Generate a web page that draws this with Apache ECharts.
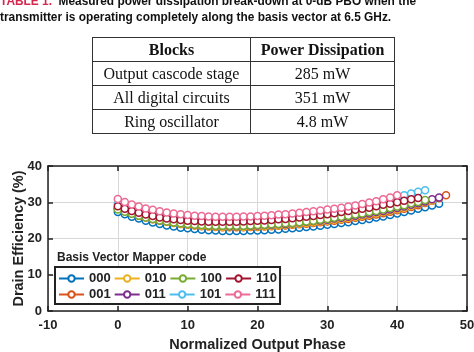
<!DOCTYPE html>
<html>
<head>
<meta charset="utf-8">
<script src="https://cdn.jsdelivr.net/npm/echarts@6/dist/echarts.min.js"></script>
<style>
  html, body { margin:0; padding:0; background:#fff; }
  #wrap { position:relative; width:474px; height:352px; overflow:hidden; background:#fff; }
  #chart { position:absolute; left:0; top:0; width:474px; height:352px; }
  .cap { position:absolute; left:0; font-family:"Liberation Sans", Arial, sans-serif; font-weight:bold; font-size:11.9px; color:#111; white-space:nowrap; line-height:14px; z-index:2; }
  .cap .tl { color:#D6284F; }
  table.pd { position:absolute; left:92px; top:37px; width:303px; border-collapse:collapse; font-family:"Liberation Serif", "Times New Roman", serif; font-size:16px; color:#111; z-index:2; }
  table.pd td, table.pd th { border:1.5px solid #333; height:23px; padding:0; text-align:center; line-height:20px; }
  table.pd th { font-weight:bold; }
</style>
</head>
<body>
<div id="wrap">
  <div id="chart"></div>
  <div class="cap" style="top:-6px;"><span class="tl">TABLE 1.</span>&nbsp; Measured power dissipation break-down at 0-dB PBO when the</div>
  <div class="cap" style="top:10px;">transmitter is operating completely along the basis vector at 6.5 GHz.</div>
  <table class="pd">
    <tr><th style="width:157px;">Blocks</th><th>Power Dissipation</th></tr>
    <tr><td>Output cascode stage</td><td>285 mW</td></tr>
    <tr><td>All digital circuits</td><td>351 mW</td></tr>
    <tr><td>Ring oscillator</td><td>4.8 mW</td></tr>
  </table>
</div>
<script>
// Normalized output phase (shared x positions)
const phase = [0,1,2,3,4,5,6,7,8,9,10,11,12,13,14,15,16,17,18,19,20,21,22,23,24,25,26,27,28,29,30,31,32,33,34,35,36,37,38,39,40,41,42,43,44,45,46,47];

// Drain efficiency (%) per basis vector mapper code
const eff000 = [27.3,26.7,26.0,25.5,24.9,24.4,24.0,23.6,23.3,23.0,22.8,22.6,22.4,22.3,22.2,22.1,22.1,22.1,22.1,22.2,22.2,22.3,22.4,22.5,22.7,22.8,23.0,23.2,23.3,23.5,23.8,24.0,24.3,24.5,24.8,25.1,25.4,25.8,26.1,26.5,26.9,27.3,27.7,28.2,28.6,29.1,29.6];
const eff001 = [28.3,27.6,26.9,26.3,25.8,25.3,24.9,24.6,24.3,24.0,23.8,23.6,23.4,23.3,23.2,23.1,23.1,23.1,23.1,23.2,23.2,23.3,23.4,23.5,23.6,23.8,23.9,24.1,24.3,24.5,24.7,24.9,25.2,25.4,25.7,26.0,26.3,26.6,27.0,27.4,27.8,28.2,28.7,29.2,29.8,30.4,31.1,31.9];
const eff010 = [28.6,27.9,27.2,26.6,26.0,25.5,25.1,24.7,24.4,24.1,23.9,23.7,23.5,23.4,23.3,23.2,23.2,23.2,23.2,23.3,23.3,23.4,23.5,23.6,23.8,23.9,24.1,24.3,24.5,24.7,24.9,25.2,25.4,25.7,26.0,26.3,26.6,27.0,27.3,27.7,28.1,28.5,29.0,29.5,30.0,30.5];
const eff011 = [28.2,27.6,27.0,26.5,26.0,25.6,25.2,24.9,24.6,24.3,24.1,23.9,23.8,23.6,23.5,23.5,23.4,23.4,23.5,23.5,23.6,23.7,23.8,23.9,24.0,24.2,24.4,24.6,24.8,25.0,25.2,25.5,25.7,26.0,26.3,26.6,26.9,27.3,27.6,28.0,28.4,28.8,29.3,29.7,30.2,30.8,31.3];
const eff100 = [28.0,27.4,26.8,26.3,25.8,25.4,25.0,24.7,24.4,24.2,24.0,23.8,23.7,23.6,23.5,23.5,23.5,23.5,23.5,23.6,23.7,23.8,23.9,24.0,24.2,24.3,24.5,24.7,24.9,25.2,25.4,25.7,26.0,26.3,26.6,26.9,27.3,27.6,28.0,28.4,28.8,29.2,29.7,30.1,30.6];
const eff101 = [29.6,28.9,28.3,27.8,27.3,26.9,26.6,26.3,26.0,25.8,25.6,25.5,25.4,25.3,25.3,25.3,25.3,25.4,25.5,25.5,25.6,25.8,25.9,26.1,26.3,26.5,26.7,26.9,27.1,27.4,27.6,27.9,28.2,28.5,28.8,29.2,29.6,30.0,30.4,30.9,31.4,31.9,32.4,32.9,33.3];
const eff110 = [28.9,28.2,27.6,27.1,26.6,26.2,25.8,25.5,25.3,25.1,24.9,24.8,24.7,24.6,24.6,24.6,24.6,24.6,24.7,24.8,24.9,25.0,25.1,25.3,25.4,25.6,25.8,26.0,26.2,26.5,26.7,27.0,27.3,27.6,27.9,28.2,28.5,28.9,29.3,29.6,30.0,30.4,30.8,31.2];
const eff111 = [30.9,30.1,29.4,28.8,28.3,27.9,27.5,27.2,26.9,26.7,26.5,26.3,26.2,26.1,26.0,26.0,26.0,26.0,26.1,26.1,26.2,26.3,26.4,26.6,26.7,26.9,27.1,27.3,27.5,27.7,28.0,28.2,28.5,28.8,29.1,29.5,29.9,30.3,30.8,31.3,31.9];

const codes = ['000','001','010','011','100','101','110','111'];
const effs  = [eff000, eff001, eff010, eff011, eff100, eff101, eff110, eff111];
const colors = ['#0072BD','#D95319','#EDB120','#7E2F8E','#77AC30','#4DBEEE','#A2142F','#EC6A94'];
const legendOrder = ['000','010','100','110','001','011','101','111'];
const xTicks = {min:-10, max:50, interval:10};
const yTicks = {min:0, max:40, interval:10};

const FONT = '"Liberation Sans", Arial, sans-serif';
const INK = '#222';

const chart = echarts.init(document.getElementById('chart'), null, {renderer:'canvas'});

const series = codes.map((c, k) => ({
  name: c,
  type: 'line',
  data: effs[k].map((v, i) => [phase[i], v]),
  symbol: 'circle',
  symbolSize: 7,
  showSymbol: true,
  color: colors[k],
  lineStyle: { width: 1.5, color: colors[k] },
  itemStyle: { color: '#fff', borderColor: colors[k], borderWidth: 1.5 },
  emphasis: { disabled: true },
  z: 2 + k
}));

const axisCommon = {
  axisLine: { show:true, onZero:false, lineStyle:{ color:INK, width:1.5 } },
  axisTick: { show:true, inside:true, length:5, lineStyle:{ color:INK, width:1.5 } },
};

chart.setOption({
  animation: false,
  backgroundColor: 'transparent',
  grid: { left:48, top:166, width:419, height:145, show:false, containLabel:false, outerBoundsMode:'none' },
  xAxis: [
    Object.assign({
      type:'value', min:xTicks.min, max:xTicks.max, interval:xTicks.interval, position:'bottom',
      name:'Normalized Output Phase', nameLocation:'middle', nameGap:26, nameMoveOverlap:false,
      nameTextStyle:{ fontFamily:FONT, fontWeight:'bold', fontSize:14.5, color:INK },
      axisLabel:{ margin:8, fontFamily:FONT, fontWeight:'bold', fontSize:13, color:INK },
      splitLine:{ show:true, lineStyle:{ color:'#d8d8d8', width:1 } }
    }, axisCommon),
    Object.assign({
      type:'value', min:xTicks.min, max:xTicks.max, interval:xTicks.interval, position:'top',
      axisLabel:{ show:false }, splitLine:{ show:false }
    }, axisCommon)
  ],
  yAxis: [
    Object.assign({
      type:'value', min:yTicks.min, max:yTicks.max, interval:yTicks.interval, position:'left',
      name:'Drain Efficiency (%)', nameLocation:'middle', nameGap:22, nameMoveOverlap:false,
      nameTextStyle:{ fontFamily:FONT, fontWeight:'bold', fontSize:14.5, color:INK },
      axisLabel:{ margin:6, fontFamily:FONT, fontWeight:'bold', fontSize:13, color:INK },
      splitLine:{ show:true, lineStyle:{ color:'#d8d8d8', width:1 } }
    }, axisCommon),
    Object.assign({
      type:'value', min:yTicks.min, max:yTicks.max, interval:yTicks.interval, position:'right',
      axisLabel:{ show:false }, splitLine:{ show:false }
    }, axisCommon)
  ],
  legend: {
    left:55, top:267, width:222, orient:'horizontal',
    data: legendOrder,
    itemWidth:25, itemHeight:8, itemGap:3,
    padding:[5,3,3,3],
    borderColor:INK, borderWidth:2, backgroundColor:'#fff',
    textStyle:{ fontFamily:FONT, fontWeight:'bold', fontSize:13, color:INK },
    selectedMode:false
  },
  graphic: [{
    type:'text', left:57, top:252, z:100,
    style:{ text:'Basis Vector Mapper code', font:'bold 12px "Liberation Sans", Arial, sans-serif', fill:INK }
  }],
  series: series
});
</script>
</body>
</html>
